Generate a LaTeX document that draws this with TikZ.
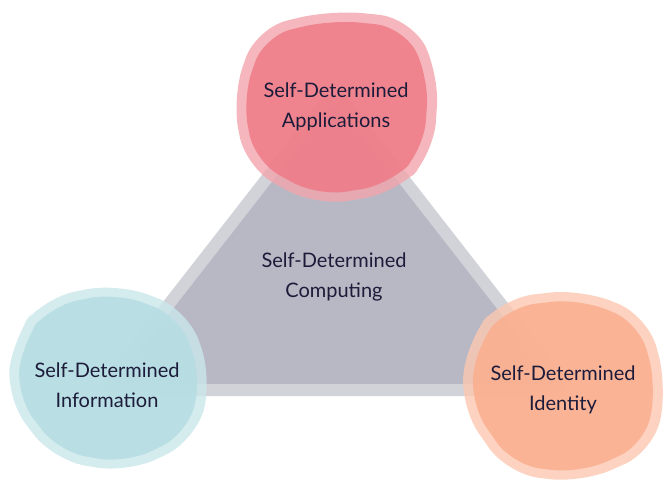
\documentclass[tikz,border=0pt]{standalone}
\usepackage{fontspec}
\setmainfont{Lato}
\definecolor{trifill}{HTML}{B8B8C5}
\definecolor{triedge}{HTML}{D2D2D9}
\definecolor{redin}{HTML}{EE7B87}
\definecolor{redout}{HTML}{F2A5AC}
\definecolor{bluein}{HTML}{B5DDE2}
\definecolor{blueout}{HTML}{CAE7EB}
\definecolor{orangein}{HTML}{FBAE8E}
\definecolor{orangeout}{HTML}{FCC7B0}
\definecolor{ink}{HTML}{1C1C3A}
\tikzset{
  label text/.style={text=ink, align=center, font=\fontsize{20}{30}\selectfont},
  blobout/.style={fill=#1, fill opacity=0.8, rounded corners=32pt},
  blobin/.style={fill=#1, fill opacity=0.85, rounded corners=28pt},
}
\begin{document}
\begin{tikzpicture}[x=1pt,y=1pt]
\useasboundingbox (0,0) rectangle (669,496);
% triangle
\draw[triedge, line width=12pt, fill=trifill, rounded corners=18pt, line join=round]
  (335,405) -- (568,106) -- (102,106) -- cycle;
% red blob
\begin{scope}[shift={(336,388)}]
  \fill[blobout=redout] (-80,80) -- (-5,98) -- (75,90) -- (103,35) -- (98,-45) -- (60,-85) -- (-20,-98) -- (-90,-60) -- (-104,10) -- cycle;
  \fill[blobin=redin, scale=0.9] (-80,80) -- (-5,98) -- (75,90) -- (103,35) -- (98,-45) -- (60,-85) -- (-20,-98) -- (-90,-60) -- (-104,10) -- cycle;
\end{scope}
% blue blob
\begin{scope}[shift={(108,118)}]
  \fill[blobout=blueout] (-65,80) -- (10,95) -- (80,68) -- (104,0) -- (88,-62) -- (20,-95) -- (-55,-82) -- (-102,-20) -- (-95,40) -- cycle;
  \fill[blobin=bluein, scale=0.9] (-65,80) -- (10,95) -- (80,68) -- (104,0) -- (88,-62) -- (20,-95) -- (-55,-82) -- (-102,-20) -- (-95,40) -- cycle;
\end{scope}
% orange blob
\begin{scope}[shift={(562,110)}]
  \fill[blobout=orangeout] (-60,88) -- (20,97) -- (86,70) -- (105,0) -- (92,-65) -- (20,-97) -- (-55,-88) -- (-102,-20) -- (-95,45) -- cycle;
  \fill[blobin=orangein, scale=0.9] (-60,88) -- (20,97) -- (86,70) -- (105,0) -- (92,-65) -- (20,-97) -- (-55,-88) -- (-102,-20) -- (-95,45) -- cycle;
\end{scope}
% labels
\node[label text] (apps) at (336,389) {Self-Determined\\Applications};
\node[label text] (comp) at (334,219) {Self-Determined\\Computing};
\node[label text] (info) at (107,111) {Self-Determined\\Information};
\node[label text] (iden) at (563,106) {Self-Determined\\Identity};
\end{tikzpicture}
\end{document}
